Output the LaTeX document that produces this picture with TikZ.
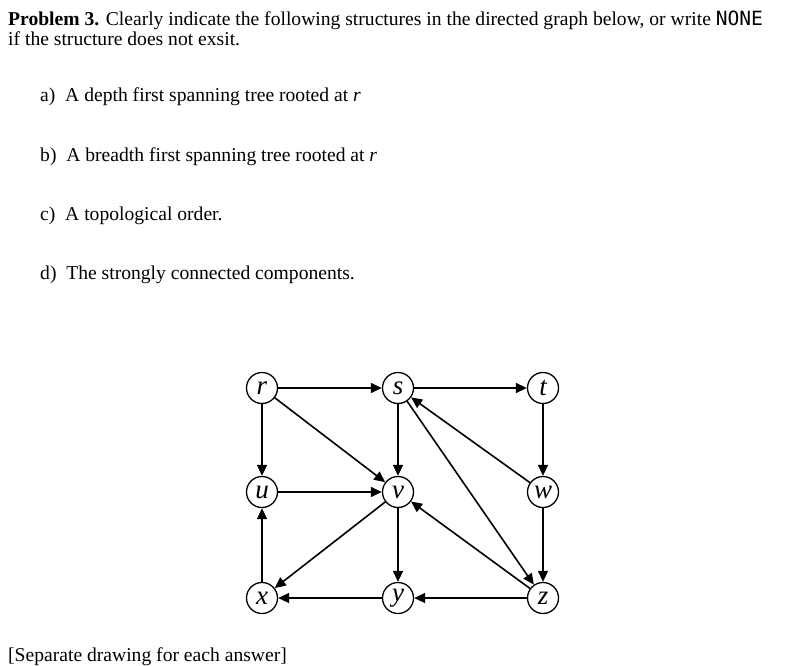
\documentclass[tikz,border=0pt]{standalone}
\usepackage{fontspec}
\setmainfont{Liberation Serif}
\setmonofont{DejaVu Sans Mono}
\usetikzlibrary{arrows.meta}
\begin{document}
\begin{tikzpicture}[x=1pt,y=-1pt,
  vtx/.style={circle,draw,line width=1.3pt,minimum size=31pt,inner sep=0pt,font=\fontsize{27}{27}\selectfont\itshape},
  edge/.style={line width=1.6pt,-{Triangle[length=11pt,width=10pt]}},
  txt/.style={anchor=base west,inner sep=0pt,font=\fontsize{19.6}{22}\selectfont}]
\useasboundingbox (0,0) rectangle (795,666);
\node[txt] (l1) at (8,26) {\textbf{Problem 3.} Clearly indicate the following structures in the directed graph below, or write \texttt{NONE}};
\node[txt] (l2) at (8,46) {if the structure does not exsit.};
\node[txt] (a) at (40,102) {a)\ \ A depth first spanning tree rooted at \textit{r}};
\node[txt] (b) at (40,161) {b)\ \ A breadth first spanning tree rooted at \textit{r}};
\node[txt] (c) at (40,220) {c)\ \ A topological order.};
\node[txt] (d) at (40,279) {d)\ \ The strongly connected components.};
\node[txt] (e) at (8,661) {[Separate drawing for each answer]};
\node[vtx] (r) at (262,388) {r};
\node[vtx] (s) at (398,388) {s};
\node[vtx] (t) at (543,388) {t};
\node[vtx] (u) at (262,492) {u};
\node[vtx] (v) at (398,492) {v};
\node[vtx] (w) at (543,492) {w};
\node[vtx] (x) at (262,598) {x};
\node[vtx] (y) at (398,598) {y};
\node[vtx] (z) at (543,598) {z};
\foreach \p/\q in {r/s,r/u,r/v,s/t,s/v,s/z,t/w,w/s,w/z,u/v,v/x,v/y,z/v,z/y,y/x,x/u}
  \draw[edge] (\p) -- (\q);
\end{tikzpicture}
\end{document}
